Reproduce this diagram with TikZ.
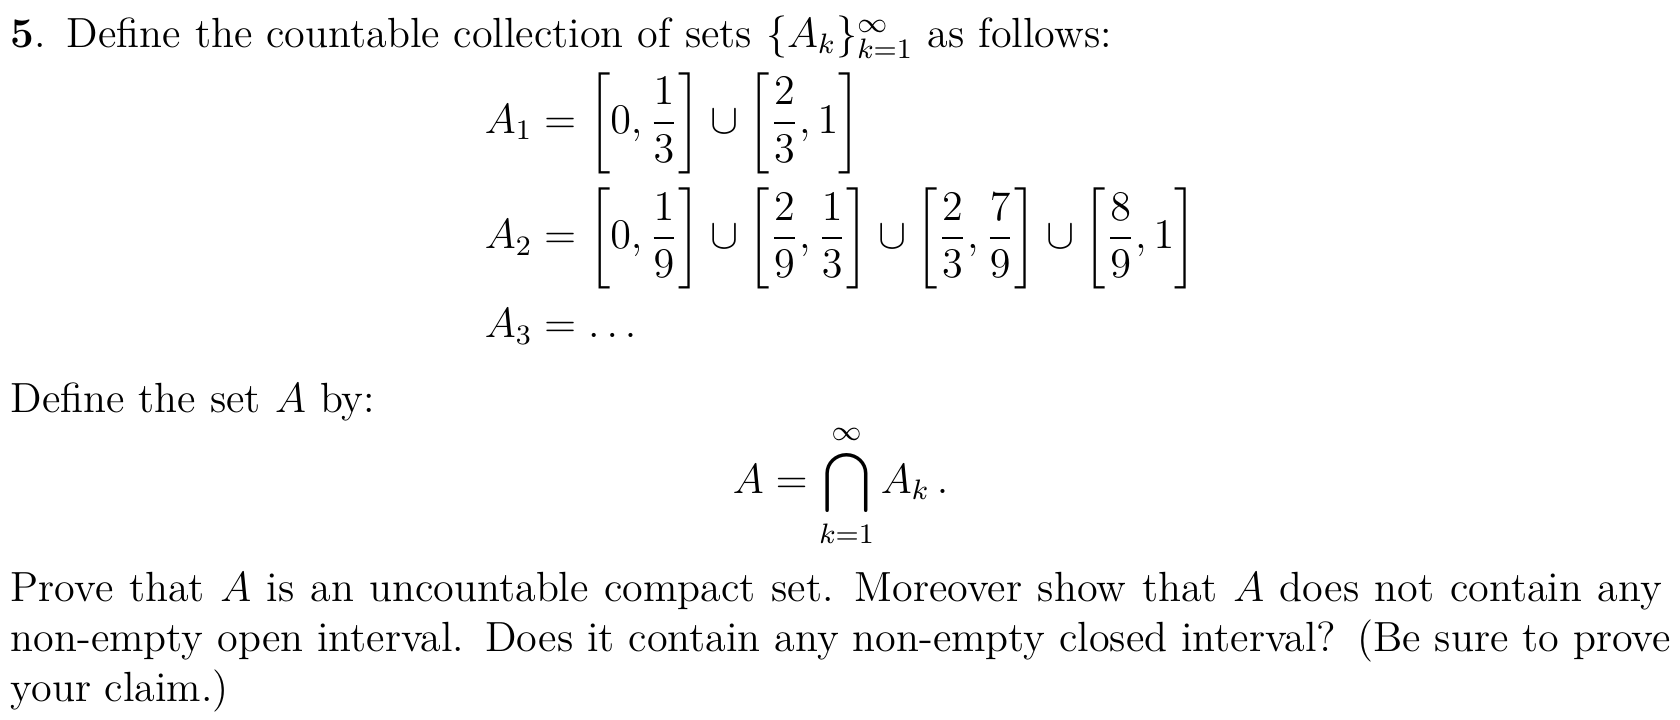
\documentclass[tikz,border=0pt]{standalone}
\usepackage{amsmath}
\begin{document}
\begin{tikzpicture}
\useasboundingbox (0,0) rectangle (16.8,-7.2);
\node[anchor=north west, inner sep=0pt, text width=16.6cm, font=\fontsize{12}{14.2}\selectfont] (q) at (0.1,-0.15) {%
\textbf{5}. Define the countable collection of sets $\{A_k\}_{k=1}^{\infty}$ as follows:
\abovedisplayskip=3pt\belowdisplayskip=7pt
\begin{align*}
A_1 &= \left[0,\frac{1}{3}\right]\cup\left[\frac{2}{3},1\right]\\
A_2 &= \left[0,\frac{1}{9}\right]\cup\left[\frac{2}{9},\frac{1}{3}\right]\cup\left[\frac{2}{3},\frac{7}{9}\right]\cup\left[\frac{8}{9},1\right]\\
A_3 &= \dots
\end{align*}
Define the set $A$ by:
\abovedisplayskip=9pt\belowdisplayskip=7pt
\[ A=\bigcap_{k=1}^{\infty} A_k\,. \]
\spaceskip=0.33em plus 0.4em minus 0.2em
Prove that $A$ is an uncountable compact set. Moreover show that $A$ does not contain any\linebreak
non-empty open interval. Does it contain any non-empty closed interval? (Be sure to prove\linebreak
your claim.)};
\end{tikzpicture}
\end{document}
